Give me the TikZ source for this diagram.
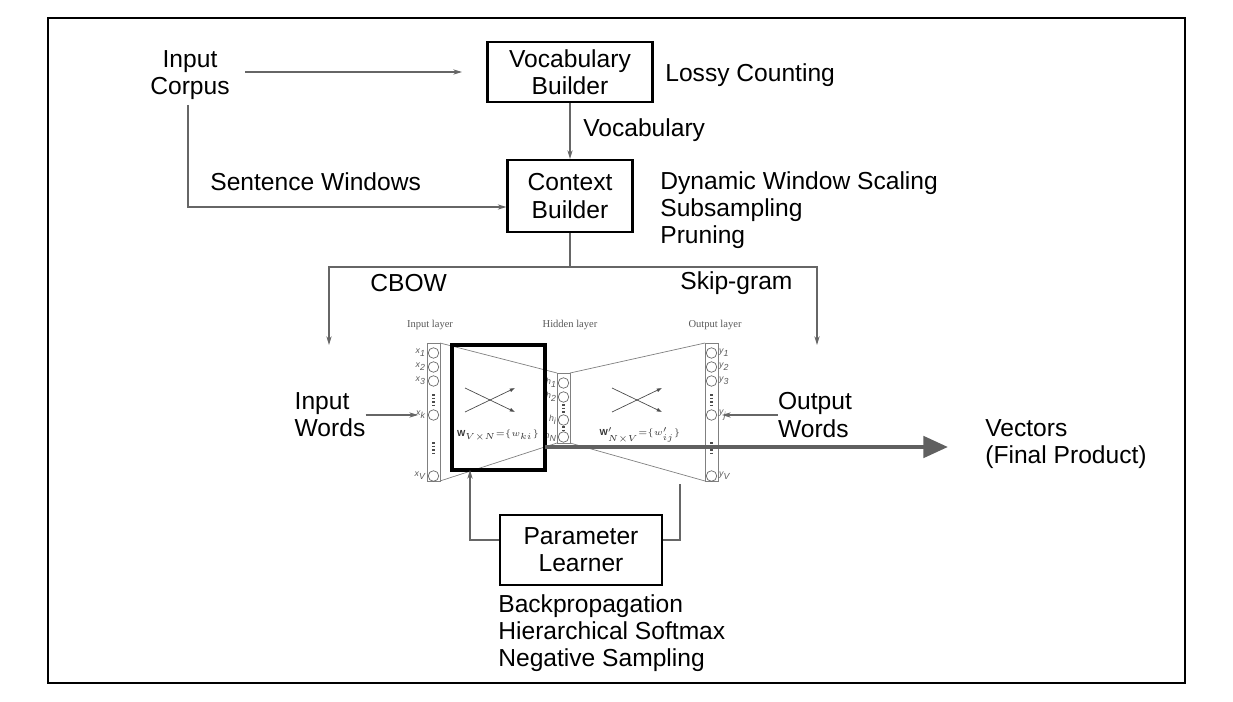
\documentclass[tikz,border=0pt]{standalone}
\usepackage{fontspec}
\setmainfont{Liberation Sans}
\newfontfamily\serifnn{Liberation Serif}
\usetikzlibrary{arrows.meta}
\begin{document}
\begin{tikzpicture}[x=0.02cm,y=-0.02cm,
  txt/.style={font=\fontsize{14}{15.5}\selectfont,align=left,inner sep=0pt},
  box/.style={draw,line width=1.2pt,font=\fontsize{14}{15.5}\selectfont,align=center,inner sep=0pt},
  ln/.style={draw=gray!80!black,line width=0.6pt},
  arr/.style={ln,-{Stealth[length=5pt,width=3pt]}},
  tiny/.style={font=\serifnn\fontsize{5}{6}\selectfont,text=gray!70!black,inner sep=0.5pt},
  nn/.style={draw=gray,line width=0.4pt},
  cir/.style={draw=gray!80!black,circle,inner sep=0pt,minimum size=6pt,line width=0.4pt}]
\useasboundingbox (0,0) rectangle (1233,702);
\draw[line width=1.5pt] (48,18) rectangle (1185,683);
% top
\node[txt,align=center] (corpus) at (190,75) {Input\\Corpus};
\node[box,minimum width=165*0.02cm,minimum height=60*0.02cm] (vb) at (570,72) {Vocabulary\\Builder};
\node[txt,anchor=west] (lossy) at (665,75) {Lossy Counting};
\node[box,minimum width=125*0.02cm,minimum height=72*0.02cm] (cb) at (570,196) {Context\\Builder};
\node[txt,anchor=west] (dyn) at (660,210) {Dynamic Window Scaling\\Subsampling\\Pruning};
\coordinate (c1) at (245,72); \coordinate (c2) at (462,72);
\draw[arr] (c1) -- (c2);
\draw[arr] (vb.south) -- (cb.north);
\node[txt,anchor=west] (voc) at (583,130) {Vocabulary};
\coordinate (c3) at (188,105); \coordinate (c4) at (188,207);
\draw[arr] (c3) -- (c4) -- (cb.west|-c4);
\node[txt,anchor=west] (sw) at (210,182) {Sentence Windows};
% split
\coordinate (s0) at (570,267); \coordinate (sl) at (329,267); \coordinate (sr) at (817,267);
\coordinate (sla) at (329,345); \coordinate (sra) at (817,345);
\draw[ln] (cb.south) -- (s0);
\draw[arr] (s0) -- (sl) -- (sla);
\draw[arr] (s0) -- (sr) -- (sra);
\node[txt,anchor=west] (cbow) at (370,283) {CBOW};
\node[txt,anchor=west] (skip) at (680,283) {Skip-gram};
% network
\node[tiny,font=\serifnn\fontsize{6}{7}\selectfont] at (430,325) {Input layer};
\node[tiny,font=\serifnn\fontsize{6}{7}\selectfont] at (570,325) {Hidden layer};
\node[tiny,font=\serifnn\fontsize{6}{7}\selectfont] at (715,325) {Output layer};
\draw[nn] (427,343) rectangle (440,481);
\draw[nn] (557,373) rectangle (570,443);
\draw[nn] (705,343) rectangle (718,481);
\draw[nn] (440,343) -- (557,373); \draw[nn] (440,481) -- (557,443);
\draw[nn] (570,373) -- (705,343); \draw[nn] (570,443) -- (705,481);
\foreach \y/\l in {353/x_1,367/x_2,381/x_3,415/x_k,476/x_V}{
  \node[cir] at (433.5,\y) {}; \node[tiny,anchor=east] at (427,\y) {$\scriptstyle\mathit{\l}$};}
\foreach \y/\l in {353/y_1,367/y_2,381/y_3,415/y_j,476/y_V}{
  \node[cir] at (711.5,\y) {}; \node[tiny,anchor=west] at (718,\y) {$\scriptstyle\mathit{\l}$};}
\foreach \y/\l in {383/h_1,397/h_2,420/h_i,437/h_N}{
  \node[cir] at (563.5,\y) {}; \node[tiny,anchor=east] at (558,\y) {$\scriptstyle\mathit{\l}$};}
\foreach \x/\a/\b in {433.5/394/408,433.5/442/456,711.5/394/408,711.5/442/456,563.5/404/414,563.5/426/432}{
  \draw[line width=1.2pt,dash pattern=on 1pt off 1pt,gray!60!black] (\x,\a) -- (\x,\b);}
\draw[line width=2pt] (452,345) rectangle (545,470);
\foreach \cx in {490,637}{
  \draw[gray!60!black,line width=0.4pt,-{Latex[length=3pt]}] (\cx-25,412) -- (\cx+25,388);
  \draw[gray!60!black,line width=0.4pt,-{Latex[length=3pt]}] (\cx-25,388) -- (\cx+25,412);}
\node[tiny,text=black!80] at (498,435) {$\scriptstyle\mathbf{W}_{V\times N}{=}\{w_{ki}\}$};
\node[tiny,text=black!80] at (640,435) {$\scriptstyle\mathbf{W}'_{N\times V}{=}\{w'_{ij}\}$};
% input/output words
\node[txt] (iw) at (330,415) {Input\\Words};
\node[txt] (ow) at (815,415) {Output\\Words};
\coordinate (ia) at (418,415); \coordinate (oa) at (722,415);
\draw[arr] (iw.east) -- (ia);
\draw[arr] (ow.west) -- (oa);
% vectors
\node[txt,anchor=west] (vec) at (985,444) {Vectors\\(Final Product)};
\coordinate (v0) at (545,447); \coordinate (v1) at (948,447);
\draw[gray!75!black,line width=2.5pt,-{Triangle[length=14pt,width=12pt]}] (v0) -- (v1);
% parameter learner
\node[box,minimum width=162*0.02cm,minimum height=70*0.02cm] (pl) at (581,550) {Parameter\\Learner};
\coordinate (p1) at (470,540); \coordinate (p2) at (470,470);
\coordinate (p3) at (680,540); \coordinate (p4) at (680,484);
\draw[arr] (pl.west|-p1) -- (p1) -- (p2);
\draw[ln] (pl.east|-p3) -- (p3) -- (p4);
\node[txt,anchor=north west] (bp) at (498,594) {Backpropagation\\Hierarchical Softmax\\Negative Sampling};
\end{tikzpicture}
\end{document}
